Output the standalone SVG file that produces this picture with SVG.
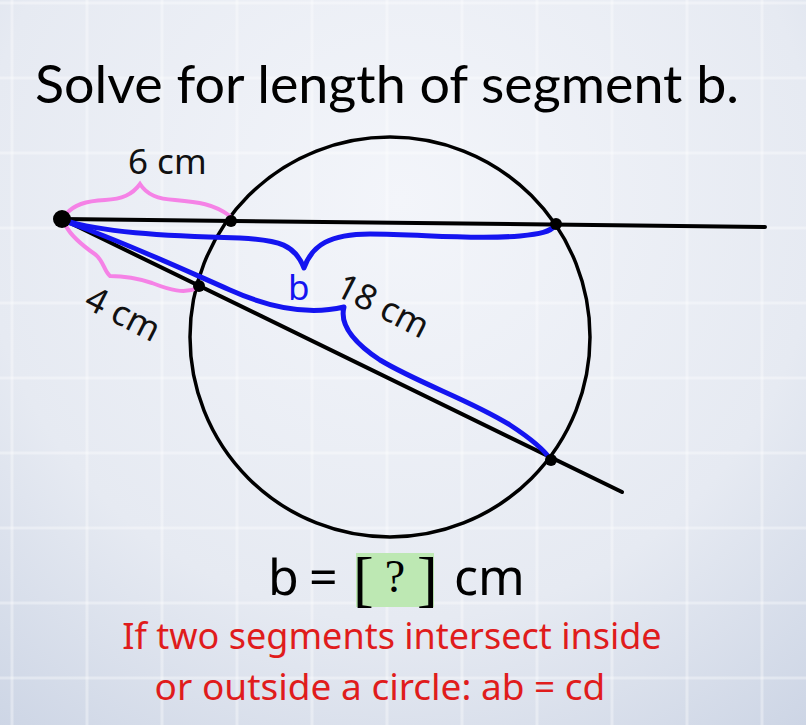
<svg xmlns="http://www.w3.org/2000/svg" width="806" height="725" viewBox="0 0 806 725">
<defs>
<radialGradient id="bg" cx="400" cy="200" r="700" gradientUnits="userSpaceOnUse">
<stop offset="0" stop-color="#f3f5fa"/>
<stop offset="0.6" stop-color="#e6eaf2"/>
<stop offset="1" stop-color="#c9d2e3"/>
</radialGradient>
<style>
.grid line{stroke:#ffffff;stroke-opacity:0.35;stroke-width:3}
.blk{stroke:#000;stroke-width:4;fill:none;stroke-linecap:round}
.blue{stroke:#1414f0;stroke-width:5;fill:none;stroke-linecap:round;stroke-linejoin:round}
.pink{stroke:#f582e6;stroke-width:4;fill:none;stroke-linecap:round}
.lbl{font-family:"Noto Sans",sans-serif;font-size:35px;fill:#111}
.red{font-family:"Noto Sans",sans-serif;font-size:36px;fill:#e01c1c;text-anchor:middle}
</style>
</defs>
<rect width="806" height="725" fill="url(#bg)"/>
<g class="grid">
<line x1="12" y1="0" x2="12" y2="725"/><line x1="87" y1="0" x2="87" y2="725"/><line x1="162" y1="0" x2="162" y2="725"/><line x1="237" y1="0" x2="237" y2="725"/><line x1="312" y1="0" x2="312" y2="725"/><line x1="387" y1="0" x2="387" y2="725"/><line x1="462" y1="0" x2="462" y2="725"/><line x1="537" y1="0" x2="537" y2="725"/><line x1="612" y1="0" x2="612" y2="725"/><line x1="687" y1="0" x2="687" y2="725"/><line x1="762" y1="0" x2="762" y2="725"/>
<line x1="0" y1="3" x2="806" y2="3"/><line x1="0" y1="78" x2="806" y2="78"/><line x1="0" y1="153" x2="806" y2="153"/><line x1="0" y1="228" x2="806" y2="228"/><line x1="0" y1="303" x2="806" y2="303"/><line x1="0" y1="378" x2="806" y2="378"/><line x1="0" y1="453" x2="806" y2="453"/><line x1="0" y1="528" x2="806" y2="528"/><line x1="0" y1="603" x2="806" y2="603"/><line x1="0" y1="678" x2="806" y2="678"/>
</g>
<text id="title" x="35" y="103" font-family="Lato, sans-serif" font-size="53" fill="#000" textLength="704" lengthAdjust="spacingAndGlyphs">Solve for length of segment b.</text>
<g id="circle"><circle cx="390" cy="337" r="200" fill="none" stroke="#000" stroke-width="3.5"/></g>
<g id="connectors">
<line class="blk" x1="62" y1="219" x2="765" y2="227"/>
<line class="blk" x1="62" y1="219" x2="622" y2="492"/>
<path class="pink" d="M66,214 C74,205 85,201 105,200 C122,199 132,195 140,184 C147,195 158,199 175,200 C198,202 214,204 230,216"/>
<path class="pink" d="M66,226 C72,238 86,248 96,255 C104,262 104,271 110,276 C122,276 137,278 152,283 C170,290 184,294 198,288"/>
<path class="blue" d="M64,220 C100,232 160,236 240,238 C280,240 295,245 304,268 C312,245 330,234 370,234 C420,234 470,240 520,236 C540,234 550,232 556,225"/>
<path class="blue" d="M64,221 C120,240 180,268 230,290 C270,308 310,315 344,307 C340,322 350,340 380,360 C420,384 470,400 510,425 C530,438 543,448 551,460"/>
</g>
<g id="points">
<circle cx="62" cy="219" r="9" fill="#000"/>
<circle cx="231" cy="221" r="6" fill="#000"/>
<circle cx="556" cy="224" r="6" fill="#000"/>
<circle cx="199" cy="286" r="6" fill="#000"/>
<circle cx="551" cy="460" r="6" fill="#000"/>
</g>
<g id="labels">
<text class="lbl" x="128" y="174">6 cm</text>
<text class="lbl" transform="translate(123,314) rotate(27)" text-anchor="middle" y="12">4 cm</text>
<text class="lbl" transform="translate(383,306) rotate(27)" text-anchor="middle" y="12">18 cm</text>
<text x="288" y="300" font-family="Noto Sans, sans-serif" font-size="35" fill="#1414f0">b</text>
</g>
<g id="answer">
<rect x="356" y="553" width="78" height="54" fill="#bde8b3"/>
<text x="268" y="595" font-family="Noto Sans, sans-serif" font-size="50" fill="#000">b</text>
<text x="309" y="595" font-family="Noto Sans, sans-serif" font-size="50" fill="#000">=</text>
<text x="353" y="600" font-family="Liberation Serif, serif" font-size="62" fill="#000">[</text>
<text x="395" y="592" font-family="Liberation Serif, serif" font-size="46" fill="#000" text-anchor="middle">?</text>
<text x="417" y="600" font-family="Liberation Serif, serif" font-size="62" fill="#000">]</text>
<text x="454" y="595" font-family="Noto Sans, sans-serif" font-size="50" fill="#000">cm</text>
</g>
<g id="rule">
<text class="red" x="392" y="649">If two segments intersect inside</text>
<text class="red" x="380" y="700" style="font-size:37px">or outside a circle: ab = cd</text>
</g>
</svg>
